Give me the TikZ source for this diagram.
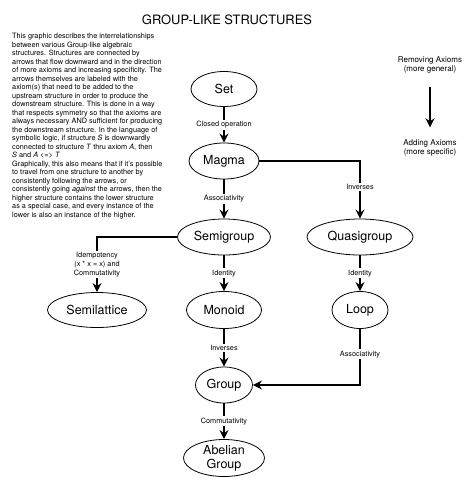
\documentclass[tikz,border=0pt]{standalone}
\usepackage{fontspec}
\setmainfont{TeX Gyre Heros}
\usetikzlibrary{shapes.geometric,arrows.meta}

\begin{document}
\begin{tikzpicture}[x=1pt,y=-1pt,every node/.style={inner sep=0pt},
  struct/.style={ellipse,draw=black,line width=0.8pt,font=\fontsize{12.5}{14}\selectfont,align=center},
  axiom/.style={fill=white,inner sep=1.5pt,font=\fontsize{7.3}{8.6}\selectfont,align=center},
  legend/.style={font=\fontsize{8}{9.4}\selectfont,align=center},
  link/.style={line width=2.8pt,-{Stealth[length=9pt,width=9pt,inset=3pt]}}]
\useasboundingbox (0,0) rectangle (474,488);
\node (title) at (227,20) [font=\fontsize{12.9}{15}\selectfont]{GROUP-LIKE STRUCTURES};
\node (about) at (12,33) [anchor=north west,align=left,font=\fontsize{7.3}{8.5}\selectfont]{%
This graphic describes the interrelationships\\
between various Group-like algebraic\\
structures. Structures are connected by\\
arrows that flow downward and in the direction\\
of more axioms and increasing specificity. The\\
arrows themselves are labeled with the\\
axiom(s) that need to be added to the\\
upstream structure in order to produce the\\
downstream structure. This is done in a way\\
that respects symmetry so that the axioms are\\
always necessary AND sufficient for producing\\
the downstream structure. In the language of\\
symbolic logic, if structure \textit{S} is downwardly\\
connected to structure \textit{T} thru axiom \textit{A}, then\\
\textit{S} and \textit{A} <=> \textit{T}\\
Graphically, this also means that if it's possible\\
to travel from one structure to another by\\
consistently following the arrows, or\\
consistently going \textit{against} the arrows, then the\\
higher structure contains the lower structure\\
as a special case, and every instance of the\\
lower is also an instance of the higher.};
\node (remove) at (430,65) [legend]{Removing Axioms\\(more general)};
\node (add) at (430,148) [legend]{Adding Axioms\\(more specific)};
\node (set) at (224,89) [struct,minimum width=66pt,minimum height=35pt]{Set};
\node (magma) at (224,161) [struct,minimum width=70pt,minimum height=36pt]{Magma};
\node (semigroup) at (224,237) [struct,minimum width=93pt,minimum height=36pt]{Semigroup};
\node (quasigroup) at (360,237) [struct,minimum width=106pt,minimum height=36pt]{Quasigroup};
\node (semilattice) at (97,310) [struct,minimum width=99pt,minimum height=35pt]{Semilattice};
\node (monoid) at (224,310) [struct,minimum width=75pt,minimum height=37pt]{Monoid};
\node (loop) at (360,310) [struct,minimum width=56pt,minimum height=37pt]{Loop};
\node (group) at (224,385) [struct,minimum width=57pt,minimum height=36pt]{Group};
\node (abelian) at (224,458) [struct,minimum width=81pt,minimum height=37pt]{Abelian\\Group};
\draw[link,shorten <=13pt,shorten >=12pt] (remove) -- (add);
\draw[link] (set) -- node[axiom]{Closed operation} (magma);
\draw[link] (magma) -- node[axiom]{Associativity} (semigroup);
\draw[link] (magma) -- (magma -| quasigroup) -- node[axiom,pos=0.45]{Inverses} (quasigroup);
\draw[link] (semigroup) -- (semigroup -| semilattice) -- node[axiom]{Idempotency\\(x * x = x) and\\Commutativity} (semilattice);
\draw[link] (semigroup) -- node[axiom]{Identity} (monoid);
\draw[link] (quasigroup) -- node[axiom]{Identity} (loop);
\draw[link] (monoid) -- node[axiom]{Inverses} (group);
\draw[link] (loop) -- node[axiom,pos=0.45]{Associativity} (loop |- group) -- (group);
\draw[link] (group) -- node[axiom]{Commutativity} (abelian);
\end{tikzpicture}
\end{document}
